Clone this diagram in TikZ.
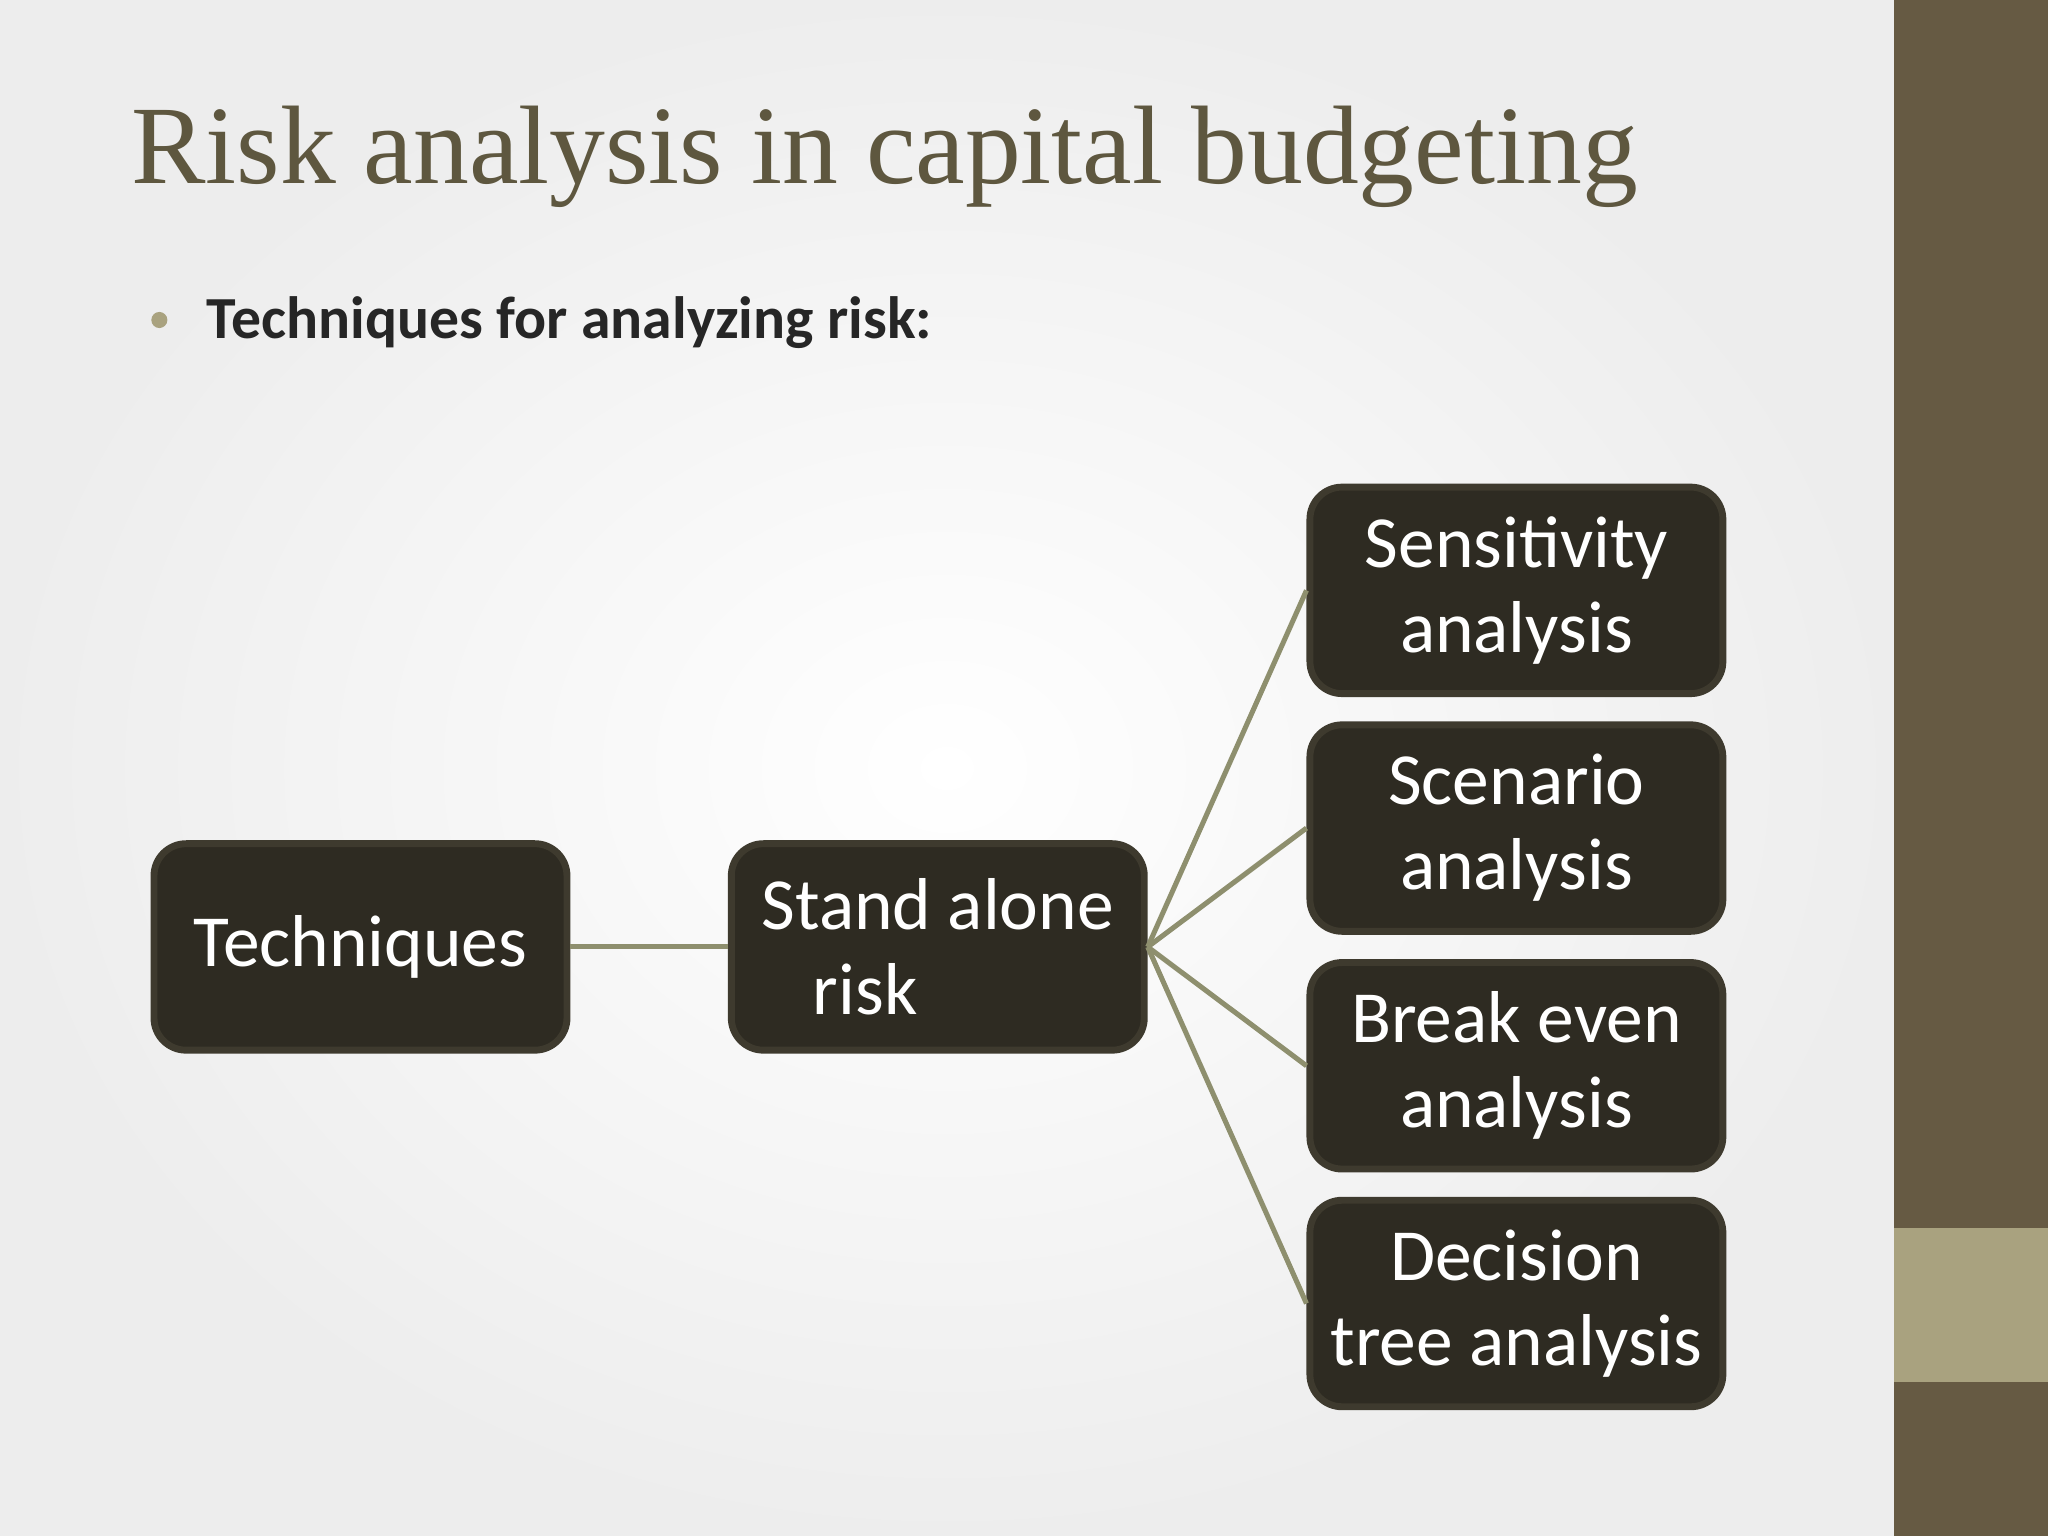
\documentclass[tikz,border=0pt]{standalone}
\usepackage{fontspec}
\setmainfont{Carlito}
\newfontfamily\titlefont{Liberation Serif}
\begin{document}
\begin{tikzpicture}[x=0.01cm,y=-0.01cm,
  box/.style={draw={rgb,255:red,62;green,58;blue,46}, line width=1.5pt, fill={rgb,255:red,46;green,43;blue,34}, rounded corners=7pt, minimum width=3.16cm, minimum height=1.58cm, text=white, font=\fontsize{16}{18.5}\selectfont, inner sep=1pt, align=center},
  link/.style={draw={rgb,255:red,142;green,143;blue,110}, line width=1.1pt}]
\definecolor{bar}{RGB}{102,90,67}
\definecolor{band}{RGB}{169,162,127}
\definecolor{titlec}{RGB}{94,87,63}
\useasboundingbox (0,0) rectangle (1568,1176);
\shade[inner color=white, outer color=black!7] (0,0) rectangle (1450,1176);
\fill[bar] (1450,0) rectangle (1568,1176);
\fill[band] (1450,940) rectangle (1568,1058);
\node[anchor=west, text=titlec, font=\titlefont\fontsize{24.3}{28}\selectfont] (title) at (88,120) {Risk analysis in capital budgeting};
\node[anchor=west, font=\bfseries\fontsize{13}{15}\selectfont, text=black!85] (bul) at (146,247) {Techniques for analyzing risk:};
\node[circle, fill=band, inner sep=0pt, minimum size=3.5pt] (dot) at (122,245) {};
\node[box] (tech) at (276,725) {Techniques};
\node[box, align=left] (sa) at (718,725) {Stand alone\\\hspace*{0.7em}risk};
\node[box] (r1) at (1161,452) {Sensitivity\\analysis};
\node[box] (r2) at (1161,634) {Scenario\\analysis};
\node[box] (r3) at (1161,816) {Break even\\analysis};
\node[box] (r4) at (1161,998) {Decision\\tree analysis};
\draw[link] (tech.east) -- (sa.west);
\foreach \r in {r1,r2,r3,r4} \draw[link] (sa.east) -- (\r.west);
\end{tikzpicture}
\end{document}
